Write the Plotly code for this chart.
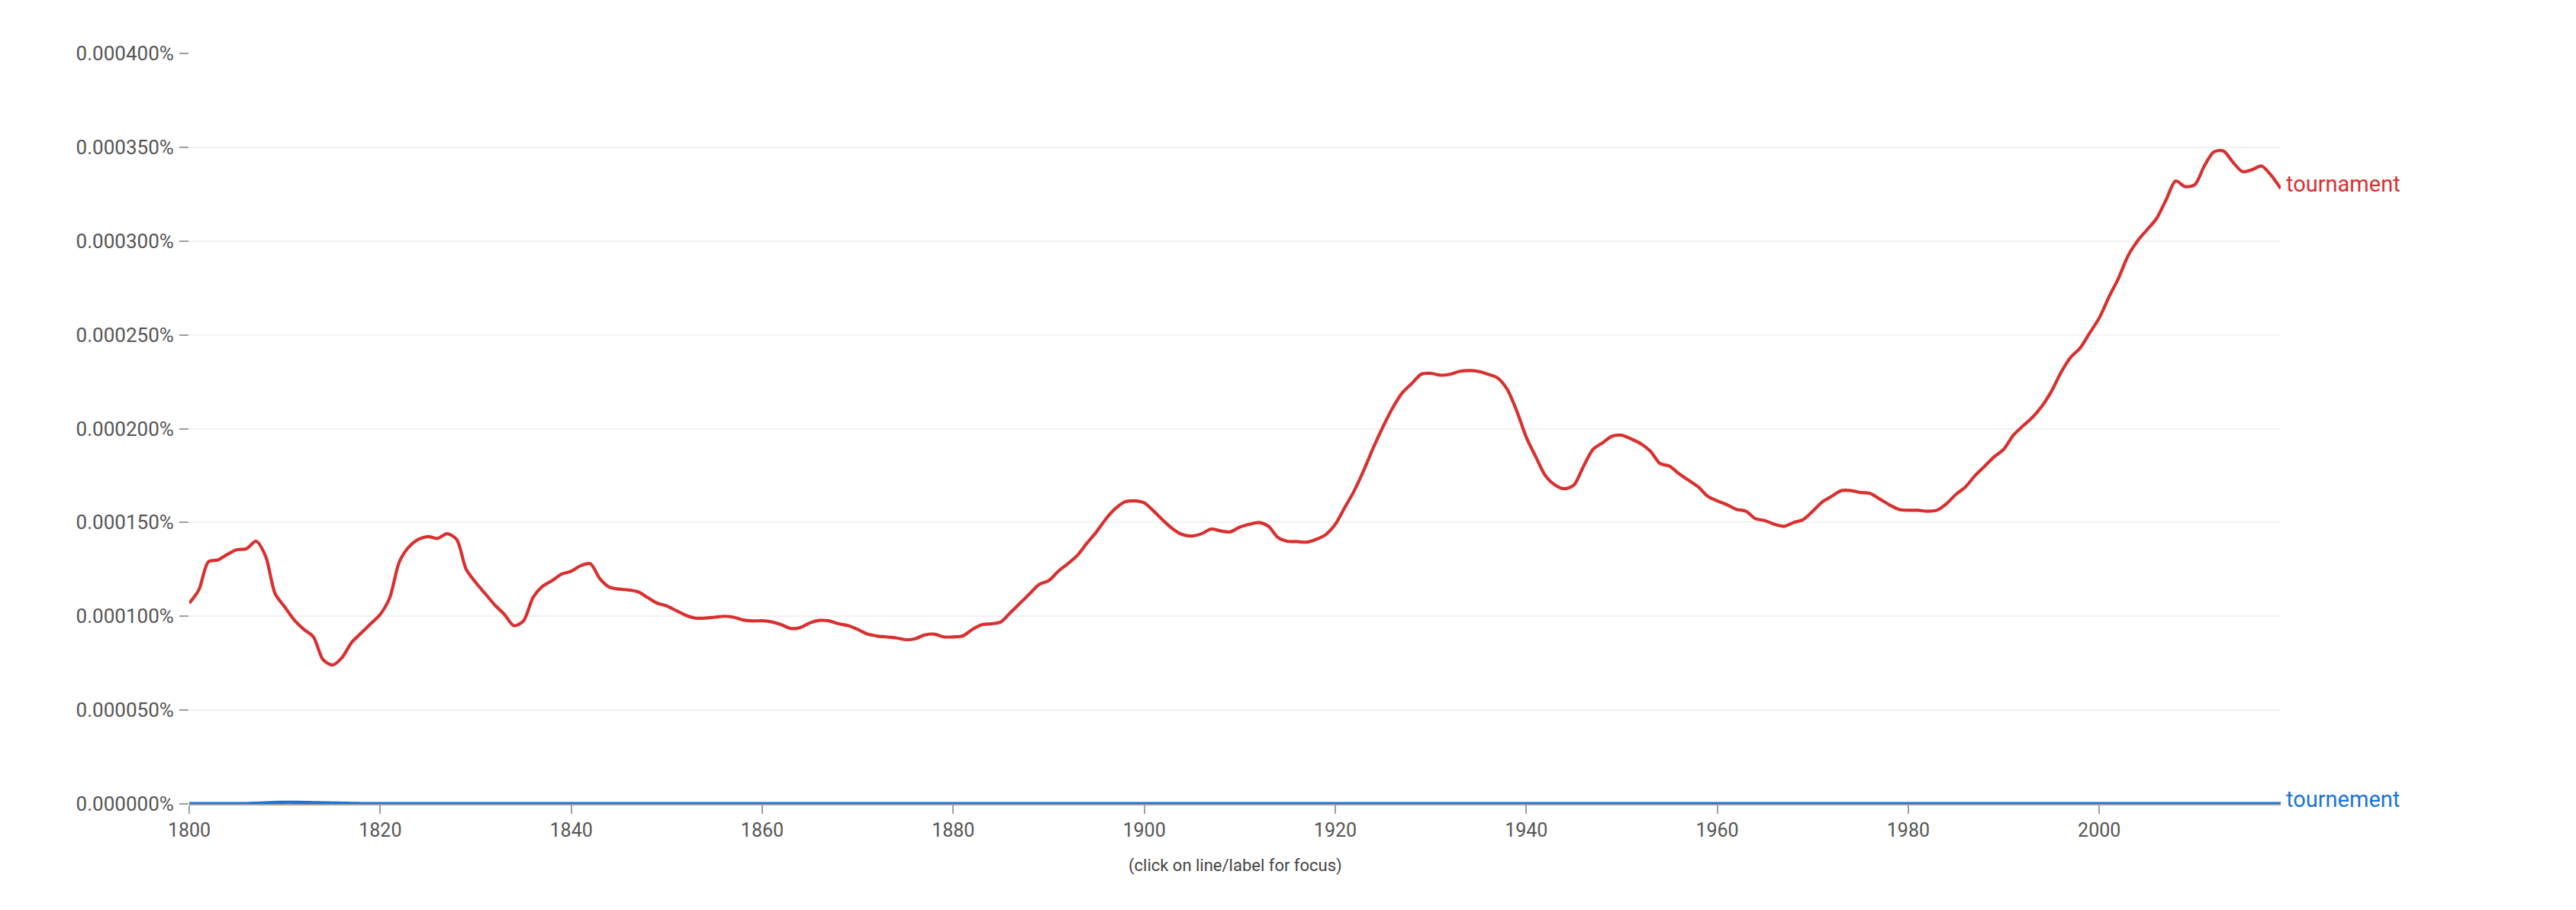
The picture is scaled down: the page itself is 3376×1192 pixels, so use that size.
import plotly.graph_objects as go

years = list(range(1800, 2020))

# "tournament" frequency (%), one value per year 1800-2019
tournament = [
    1.07, 1.14, 1.29, 1.30, 1.33, 1.355, 1.36, 1.40, 1.32, 1.12,   # 1800-1809
    1.05, 0.98, 0.93, 0.89, 0.77, 0.74, 0.78, 0.86, 0.91, 0.96,    # 1810-1819
    1.01, 1.10, 1.29, 1.37, 1.41, 1.425, 1.415, 1.44, 1.41, 1.25,  # 1820-1829
    1.18, 1.12, 1.06, 1.01, 0.95, 0.975, 1.10, 1.16, 1.19, 1.225,  # 1830-1839
    1.24, 1.27, 1.28, 1.20, 1.155, 1.145, 1.14, 1.13, 1.10, 1.07,  # 1840-1849
    1.055, 1.03, 1.005, 0.99, 0.99, 0.995, 1.00, 0.995, 0.98, 0.975,  # 1850-1859
    0.976, 0.97, 0.955, 0.935, 0.94, 0.965, 0.978, 0.975, 0.96, 0.95,  # 1860-1869
    0.93, 0.905, 0.895, 0.89, 0.885, 0.875, 0.88, 0.90, 0.905, 0.89,   # 1870-1879
    0.89, 0.895, 0.93, 0.955, 0.96, 0.97, 1.02, 1.07, 1.12, 1.17,      # 1880-1889
    1.19, 1.24, 1.28, 1.325, 1.39, 1.45, 1.52, 1.575, 1.61, 1.615,     # 1890-1899
    1.605, 1.56, 1.51, 1.465, 1.435, 1.428, 1.44, 1.465, 1.455, 1.45,  # 1900-1909
    1.475, 1.49, 1.50, 1.48, 1.42, 1.40, 1.398, 1.395, 1.41, 1.435,    # 1910-1919
    1.49, 1.58, 1.67, 1.78, 1.90, 2.01, 2.11, 2.19, 2.24, 2.29,        # 1920-1929
    2.295, 2.285, 2.29, 2.305, 2.31, 2.305, 2.29, 2.27, 2.21, 2.095,   # 1930-1939
    1.955, 1.85, 1.75, 1.70, 1.68, 1.70, 1.80, 1.89, 1.925, 1.96,      # 1940-1949
    1.965, 1.945, 1.92, 1.88, 1.815, 1.80, 1.76, 1.725, 1.69, 1.64,    # 1950-1959
    1.615, 1.595, 1.57, 1.56, 1.52, 1.51, 1.49, 1.48, 1.50, 1.515,     # 1960-1969
    1.56, 1.61, 1.64, 1.67, 1.67, 1.66, 1.655, 1.625, 1.595, 1.57,     # 1970-1979
    1.565, 1.565, 1.56, 1.565, 1.60, 1.65, 1.69, 1.75, 1.80, 1.85,     # 1980-1989
    1.89, 1.965, 2.014, 2.06, 2.12, 2.20, 2.30, 2.38, 2.43, 2.51,      # 1990-1999
    2.59, 2.70, 2.80, 2.92, 3.00, 3.06, 3.12, 3.22, 3.32, 3.29,        # 2000-2009
    3.30, 3.40, 3.475, 3.48, 3.42, 3.37, 3.38, 3.40, 3.35, 3.28,       # 2010-2019
]
tournament = [v * 1e-4 for v in tournament]

# "tournement" frequency (%), essentially zero with a faint bump around 1810
tournement = [0.002] * 7 + [0.004, 0.006, 0.008, 0.009, 0.009, 0.008, 0.007, 0.006, 0.005, 0.004, 0.003] + [0.002] * 202
tournement = [v * 1e-4 for v in tournement]

series_names = ["tournament", "tournement"]
series_colors = ["#d8302f", "#1a73d6"]
series_values = [tournament, tournement]

y_ticks = [i * 0.00005 for i in range(9)]
x_ticks = list(range(1800, 2001, 20))

fig = go.Figure()
for name, color, vals in zip(series_names, series_colors, series_values):
    fig.add_trace(go.Scatter(
        x=years, y=vals, mode="lines", name=name,
        line=dict(color=color, width=4.2, shape="spline", smoothing=0.8),
        hoverinfo="skip",
    ))
    fig.add_annotation(
        x=years[-1], y=vals[-1], xref="x", yref="y",
        text=name, showarrow=False, xanchor="left", yanchor="middle",
        xshift=5, yshift=6,
        font=dict(family="Roboto", size=29, color=color),
    )

fig.add_annotation(
    x=0.5, y=-0.082, xref="paper", yref="paper",
    text="(click on line/label for focus)", showarrow=False,
    xanchor="center", yanchor="middle",
    font=dict(family="Roboto", size=22, color="#444444"),
)

fig.update_layout(
    width=3376, height=1192,
    margin=dict(l=248, r=387, t=70, b=139),
    paper_bgcolor="white", plot_bgcolor="white",
    showlegend=False,
    font=dict(family="Roboto", color="#5a5a5a"),
)
fig.update_xaxes(
    range=[1800, 2019], tickvals=x_ticks, ticktext=[str(t) for t in x_ticks],
    showgrid=False, zeroline=False,
    showline=True, linecolor="#9e9e9e", linewidth=2,
    ticks="outside", ticklen=11, tickwidth=2, tickcolor="#9e9e9e",
    tickfont=dict(family="Roboto", size=25, color="#555555"),
)
fig.update_yaxes(
    range=[0, 0.0004], tickvals=y_ticks,
    ticktext=["%.6f%%" % v for v in y_ticks],
    showgrid=True, gridcolor="#f1f1f1", gridwidth=2,
    zeroline=False, showline=False,
    ticks="outside", ticklen=12, tickwidth=2, tickcolor="#9e9e9e",
    ticklabelstandoff=2,
    tickfont=dict(family="Roboto", size=26, color="#555555"),
)

fig.write_html("out.html", config={"displayModeBar": False})
